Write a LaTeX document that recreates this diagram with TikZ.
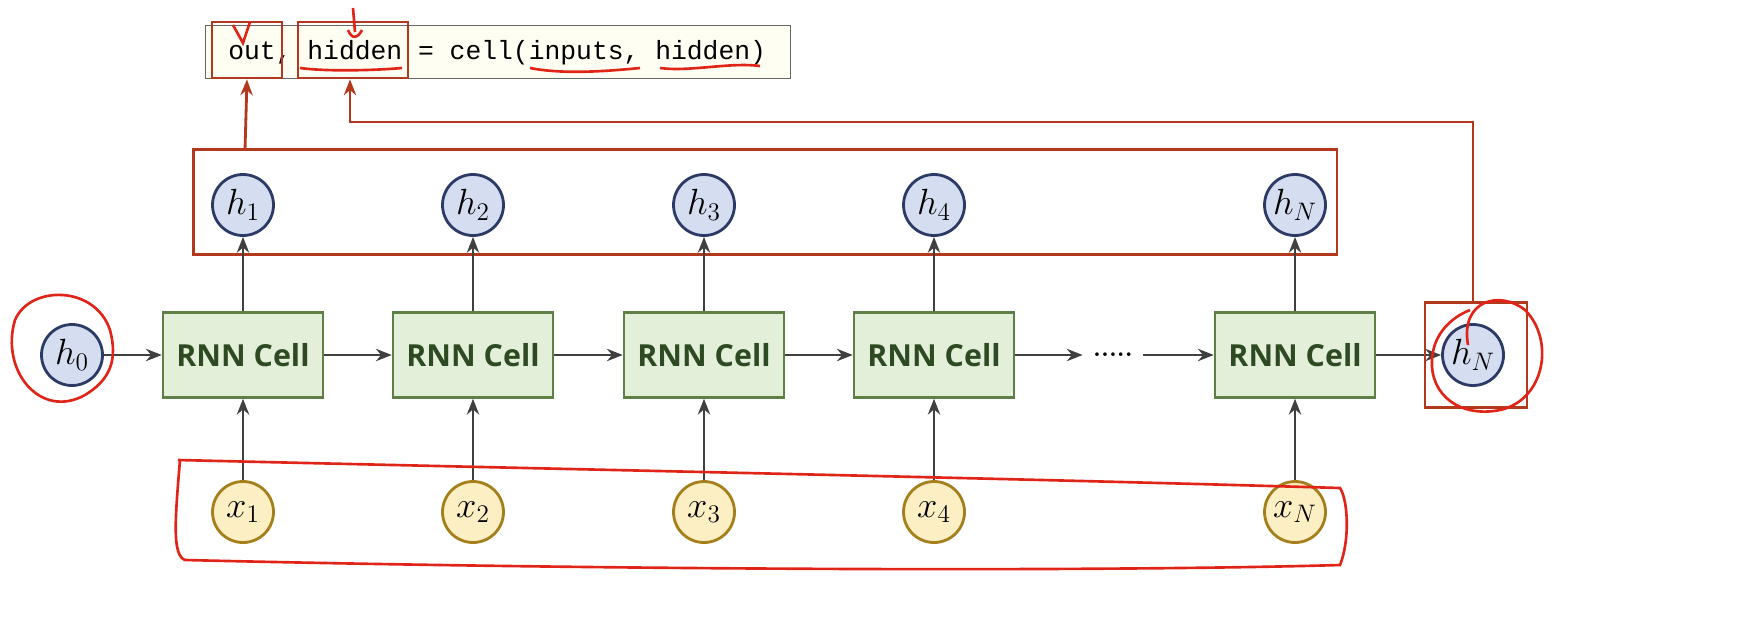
\documentclass[tikz,border=0pt]{standalone}
\usepackage{fontspec}
\newfontfamily\cellfont{Open Sans}
\newfontfamily\codefont{Liberation Mono}
\usetikzlibrary{arrows.meta}
\definecolor{hfill}{HTML}{D5DEF0}
\definecolor{hdraw}{HTML}{2C3A66}
\definecolor{cfill}{HTML}{E3EFD9}
\definecolor{cdraw}{HTML}{5E7F45}
\definecolor{ctext}{HTML}{2D4A22}
\definecolor{xfill}{HTML}{FCEFC4}
\definecolor{xdraw}{HTML}{A57F1C}
\definecolor{boxred}{HTML}{B2391E}
\definecolor{pen}{HTML}{E02418}
\begin{document}
\begin{tikzpicture}[x=0.02cm,y=-0.02cm,
  hn/.style={circle,draw=hdraw,fill=hfill,line width=1.6pt,minimum size=1.22cm,inner sep=0pt,font=\huge},
  xn/.style={circle,draw=xdraw,fill=xfill,line width=1.6pt,minimum size=1.22cm,inner sep=0pt,font=\huge},
  cell/.style={draw=cdraw,fill=cfill,line width=1.4pt,minimum width=3.2cm,minimum height=1.7cm,font=\cellfont\bfseries\LARGE,text=ctext},
  ar/.style={-{Stealth[length=9pt,width=7pt]},line width=1.4pt,draw=black!75},
  rb/.style={draw=boxred,line width=1.6pt},
  ra/.style={-{Stealth[length=9pt,width=7pt]},line width=1.6pt,draw=boxred},
  pn/.style={draw=pen,line width=1.5pt}]
\useasboundingbox (0,0) rectangle (1763,643);
\fill[white] (0,0) rectangle (1763,643);
% code box
\node[draw=black!60,fill=yellow!5,line width=0.8pt,minimum width=11.7cm,minimum height=1.06cm,anchor=west] (code) at (205,52) {};
\node[anchor=west,font=\codefont\fontsize{15}{18}\selectfont,inner sep=0pt] (codet) at (228,53) {out,\ hidden = cell(inputs, hidden)};
\node[rb,minimum width=1.4cm,minimum height=1.12cm] (bout) at (247,50) {};
\node[rb,minimum width=2.2cm,minimum height=1.12cm] (bhid) at (353,50) {};
% big red box
\node[rb,minimum width=22.88cm,minimum height=2.1cm] (big) at (765,202) {};
\coordinate (bigtop) at (245,150);
% nodes
\foreach \i/\x in {1/243,2/473,3/704,4/934}{
  \node[hn] (h\i) at (\x,205) {$h_{\i}$};
  \node[cell] (c\i) at (\x,355) {RNN Cell};
  \node[xn] (x\i) at (\x,512) {$x_{\i}$};
  \draw[ar] (c\i) -- (h\i);
  \draw[ar] (x\i) -- (c\i);
}
\node[hn] (hN) at (1295,205) {$h_N$};
\node[cell] (cN) at (1295,355) {RNN Cell};
\node[xn] (xN) at (1295,512) {$x_N$};
\draw[ar] (cN) -- (hN);
\draw[ar] (xN) -- (cN);
\node[hn] (h0) at (72,355) {$h_0$};
\node[hn] (hNo) at (1473,355) {$h_N$};
\node[font=\Large\bfseries,inner sep=0pt,minimum width=1.2cm,minimum height=0.6cm] (dots) at (1113,355) {.....};
\draw[ar] (h0) -- (c1);
\draw[ar] (c1) -- (c2);
\draw[ar] (c2) -- (c3);
\draw[ar] (c3) -- (c4);
\draw[ar] (c4) -- (dots);
\draw[ar] (dots) -- (cN);
\draw[ar] (cN) -- (hNo);
% red box around hN
\node[rb,minimum width=2.04cm,minimum height=2.1cm] (bhN) at (1476,355) {};
\draw[ra] (bigtop) -- (bout.south);
\coordinate (r1) at (1473,122);
\coordinate (r2) at (350,122);
\draw[ra] (bhN.north -| r1) -- (r1) -- (r2) -- (bhid.south -| r2);
% pen annotations
\draw[pn] (110,330) .. controls (95,285) and (30,285) .. (15,320) .. controls (0,370) and (40,420) .. (85,395) .. controls (110,380) and (118,360) .. (110,330);
\draw[pn] (1468,345) .. controls (1460,300) and (1500,290) .. (1525,310) .. controls (1555,340) and (1545,400) .. (1500,410) .. controls (1460,418) and (1430,395) .. (1432,360) .. controls (1433,335) and (1450,318) .. (1470,310);
\draw[pn] (180,460) .. controls (175,520) and (172,555) .. (185,560) .. controls (600,570) and (1100,572) .. (1340,565) .. controls (1350,540) and (1348,500) .. (1340,488) .. controls (1000,478) and (600,470) .. (178,460);
\draw[pn] (300,68) .. controls (330,72) and (380,70) .. (402,68);
\draw[pn] (530,68) .. controls (560,74) and (600,72) .. (640,68);
\draw[pn] (660,68) .. controls (690,72) and (730,62) .. (760,66);
\draw[pn] (233,25) -- (243,43) -- (250,22);
\draw[pn] (353,8) -- (355,32);
\draw[pn] (348,30) .. controls (352,40) and (358,38) .. (362,30);
\end{tikzpicture}
\end{document}
